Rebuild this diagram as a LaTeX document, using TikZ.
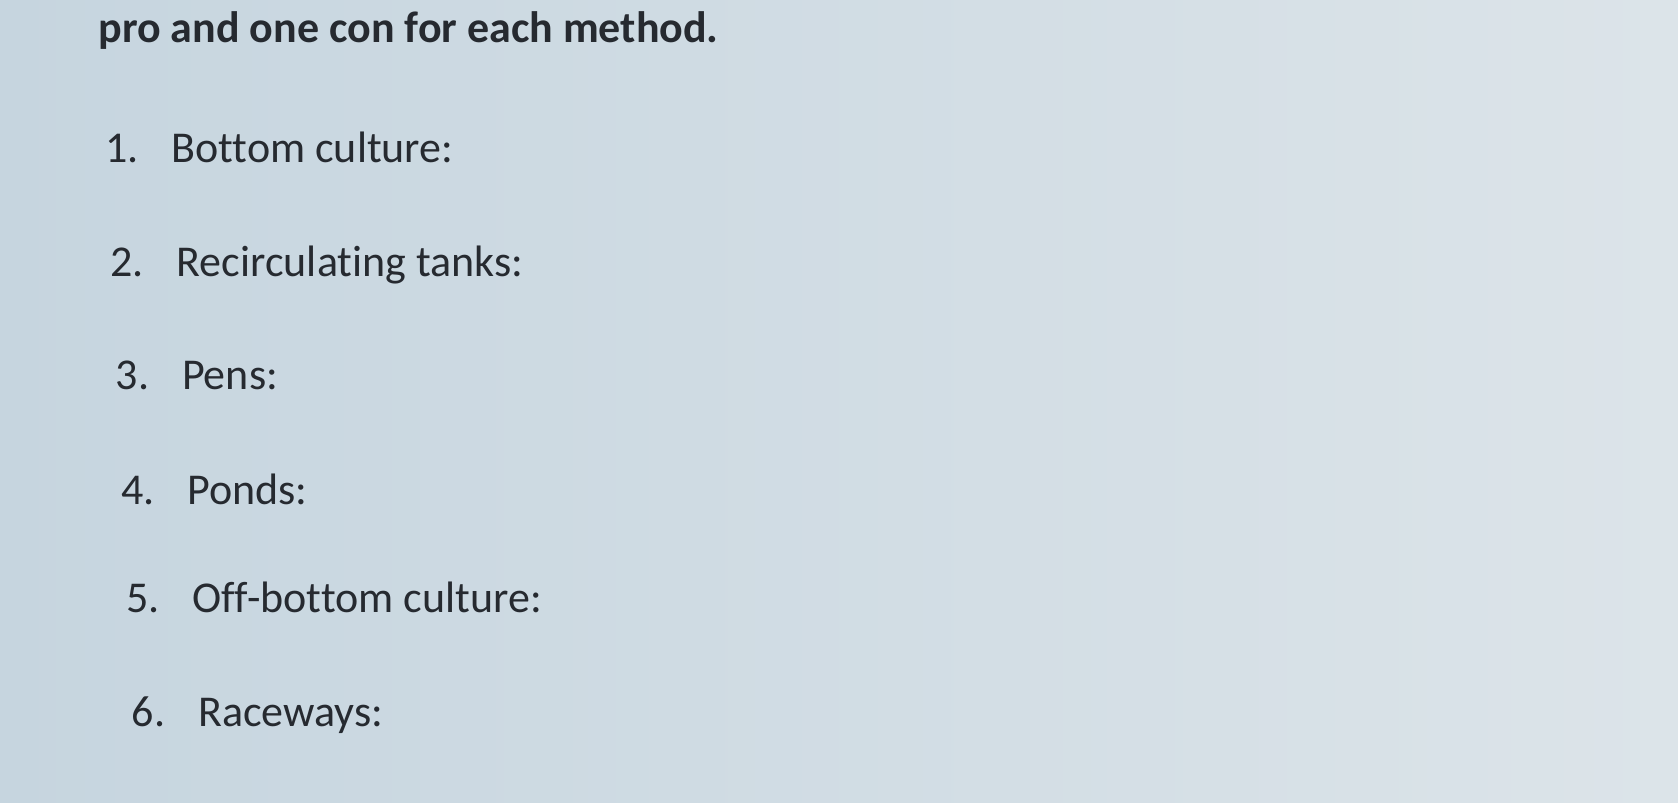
\documentclass[tikz,border=0pt]{standalone}
\usepackage{fontspec}
\setmainfont{Carlito}[Ligatures=NoCommon]
\definecolor{bgl}{HTML}{C6D5DF}
\definecolor{bgr}{HTML}{DCE4E9}
\definecolor{ink}{HTML}{262A30}
\begin{document}
\begin{tikzpicture}[x=1.07pt,y=1.07pt,
  item/.style={anchor=base west,inner sep=0pt,text=ink,font=\fontsize{44}{50}\selectfont}]
\shade[left color=bgl,right color=bgr] (0,0) rectangle (1568,-750);
\useasboundingbox (0,0) rectangle (1568,-750);
\node[item,font=\fontsize{44}{50}\selectfont\bfseries] (h) at (92,-40) {pro and one con for each method.};
\node[item] (n1) at (98,-152) {1.}; \node[item] (t1) at (160,-152) {Bottom culture:};
\node[item] (n2) at (103,-258) {2.}; \node[item] (t2) at (165,-258) {Recirculating tanks:};
\node[item] (n3) at (108,-364) {3.}; \node[item] (t3) at (170,-364) {Pens:};
\node[item] (n4) at (113,-471) {4.}; \node[item] (t4) at (175,-471) {Ponds:};
\node[item] (n5) at (118,-572) {5.}; \node[item] (t5) at (180,-572) {Off-bottom culture:};
\node[item] (n6) at (123,-679) {6.}; \node[item] (t6) at (185,-679) {Raceways:};
\end{tikzpicture}
\end{document}
